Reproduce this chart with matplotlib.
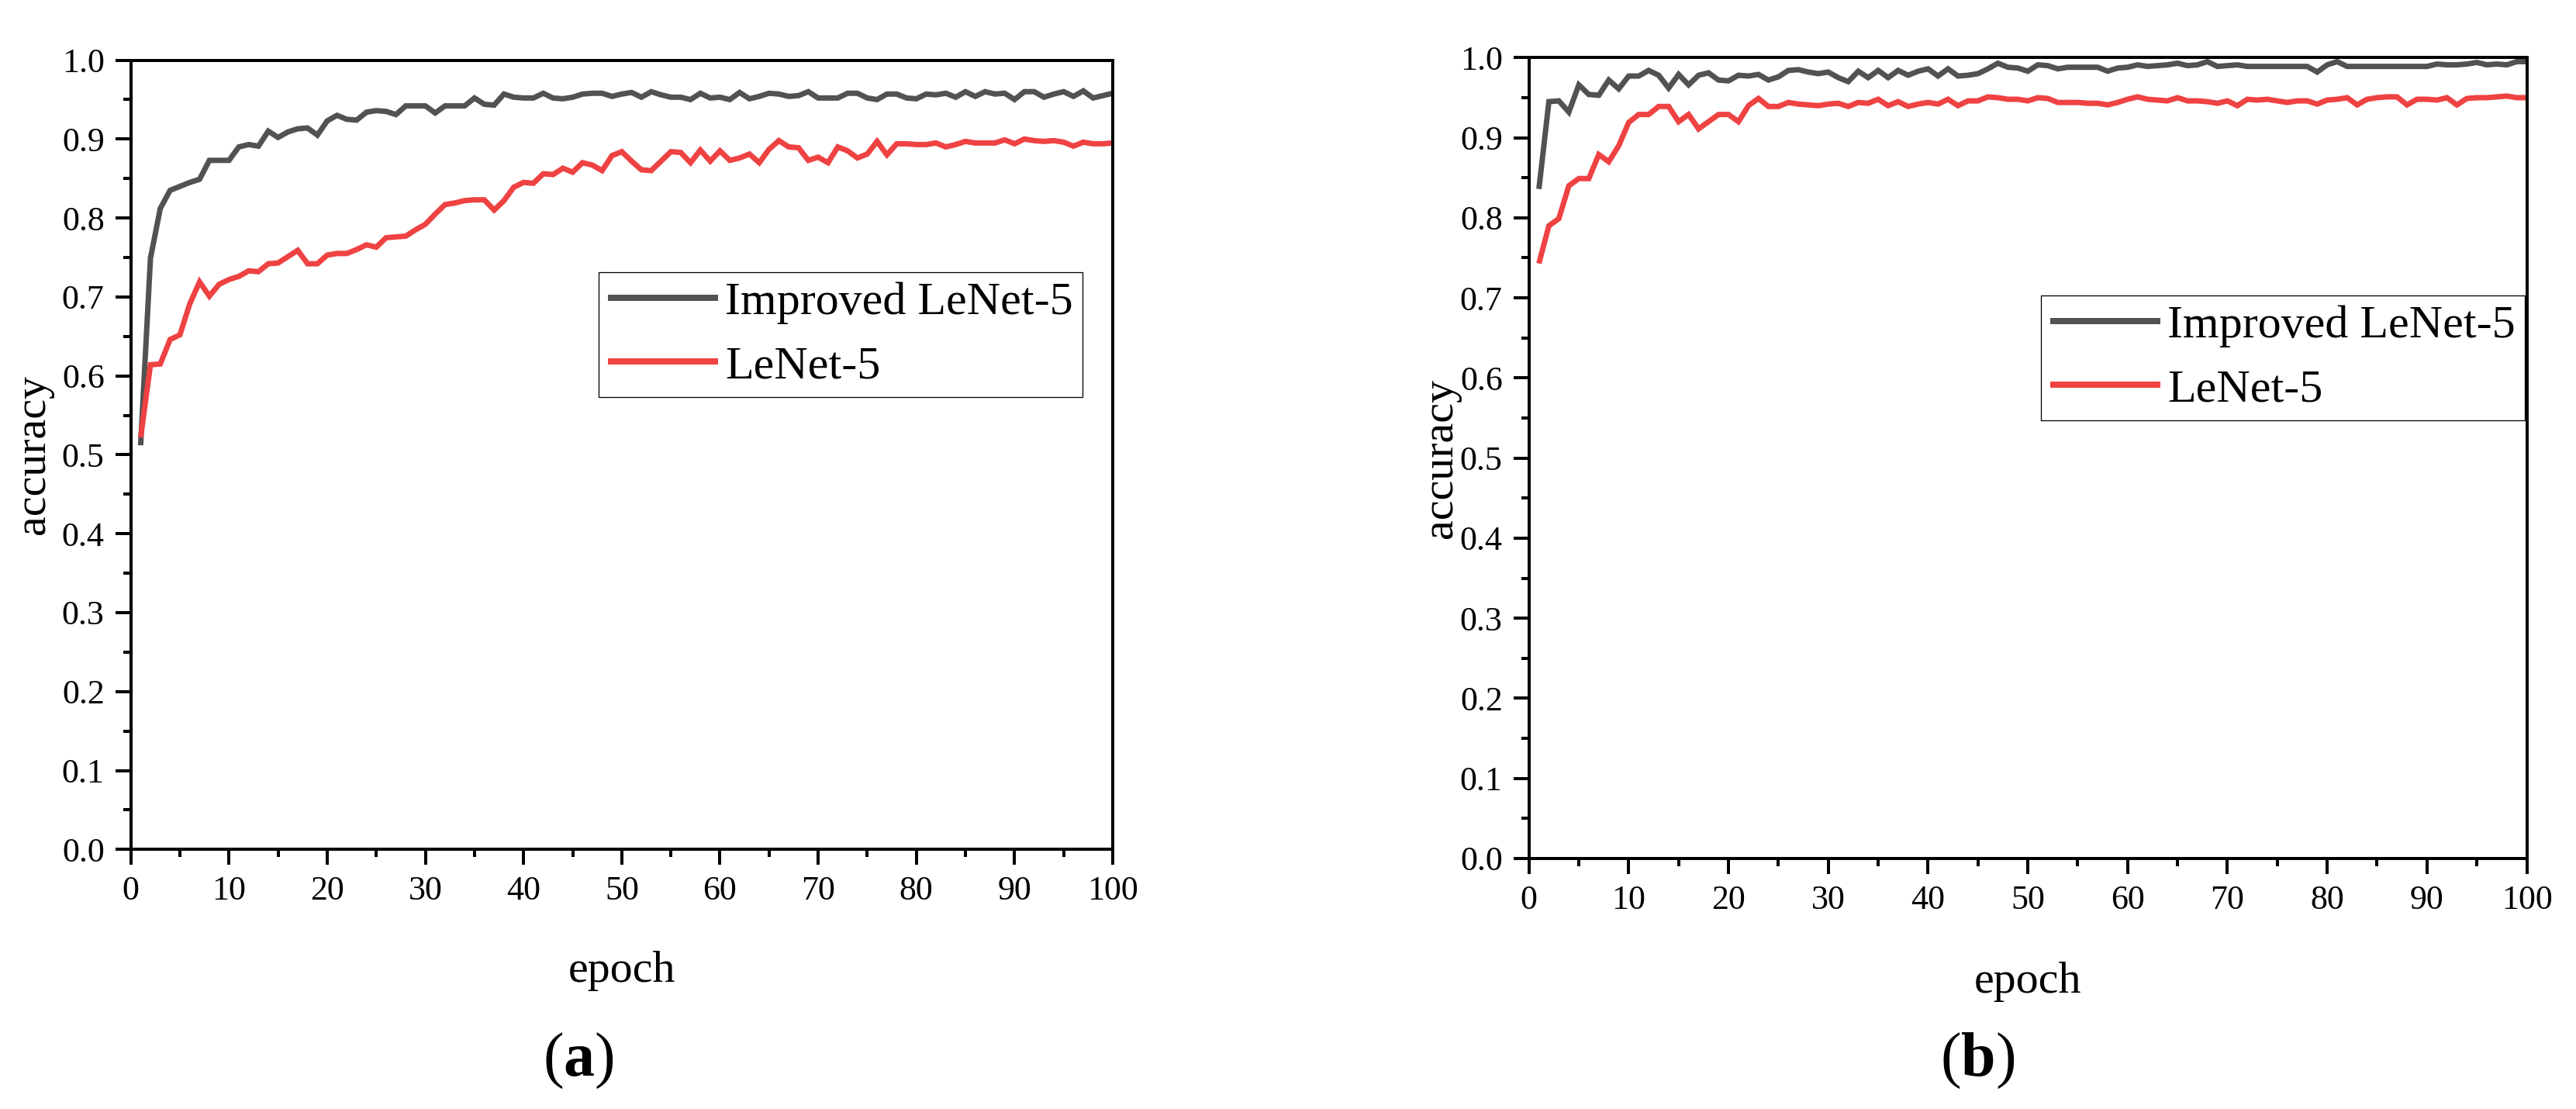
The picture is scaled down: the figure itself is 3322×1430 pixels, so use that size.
import numpy as np
import matplotlib
matplotlib.use("Agg")
import matplotlib.pyplot as plt
from matplotlib.ticker import MultipleLocator, FormatStrFormatter

SERIF = ['Liberation Serif', 'DejaVu Serif']
plt.rcParams['font.family'] = SERIF
plt.rcParams['mathtext.fontset'] = 'custom'
plt.rcParams['mathtext.rm'] = 'Liberation Serif'
plt.rcParams['mathtext.bf'] = 'Liberation Serif:bold'

epochs = list(range(1, 101))

a_improved = [
    0.512, 0.749, 0.812, 0.835, 0.840, 0.845, 0.849, 0.873, 0.873, 0.873,
    0.890, 0.893, 0.891, 0.910, 0.902, 0.909, 0.913, 0.914, 0.905, 0.923,
    0.930, 0.925, 0.924, 0.934, 0.936, 0.935, 0.931, 0.942, 0.942, 0.942,
    0.933, 0.942, 0.942, 0.942, 0.952, 0.944, 0.943, 0.957, 0.953, 0.952,
    0.952, 0.958, 0.952, 0.951, 0.953, 0.957, 0.958, 0.958, 0.954, 0.957,
    0.959, 0.953, 0.960, 0.956, 0.953, 0.953, 0.950, 0.958, 0.952, 0.953,
    0.950, 0.959, 0.951, 0.954, 0.958, 0.957, 0.954, 0.955, 0.960, 0.952,
    0.952, 0.952, 0.958, 0.958, 0.952, 0.950, 0.957, 0.957, 0.952, 0.951,
    0.957, 0.956, 0.958, 0.953, 0.960, 0.954, 0.960, 0.957, 0.958, 0.950,
    0.960, 0.960, 0.953, 0.957, 0.960, 0.954, 0.961, 0.952, 0.955, 0.958,
]
a_lenet = [
    0.522, 0.614, 0.615, 0.646, 0.652, 0.691, 0.719, 0.701, 0.716, 0.722,
    0.726, 0.733, 0.732, 0.742, 0.743, 0.751, 0.759, 0.742, 0.742, 0.753,
    0.755, 0.755, 0.760, 0.766, 0.763, 0.775, 0.776, 0.777, 0.785, 0.792,
    0.805, 0.817, 0.819, 0.822, 0.823, 0.823, 0.810, 0.822, 0.839, 0.845,
    0.844, 0.856, 0.855, 0.863, 0.858, 0.870, 0.867, 0.860, 0.879, 0.884,
    0.872, 0.861, 0.860, 0.872, 0.884, 0.883, 0.870, 0.886, 0.872, 0.885,
    0.873, 0.876, 0.881, 0.870, 0.887, 0.898, 0.890, 0.889, 0.873, 0.877,
    0.870, 0.890, 0.885, 0.876, 0.881, 0.897, 0.880, 0.894, 0.894, 0.893,
    0.893, 0.895, 0.890, 0.893, 0.897, 0.895, 0.895, 0.895, 0.899, 0.894,
    0.900, 0.898, 0.897, 0.898, 0.896, 0.891, 0.896, 0.894, 0.894, 0.895,
]
b_improved = [
    0.836, 0.945, 0.946, 0.932, 0.966, 0.954, 0.953, 0.972, 0.961, 0.977,
    0.977, 0.984, 0.978, 0.962, 0.979, 0.966, 0.978, 0.981, 0.972, 0.971,
    0.978, 0.977, 0.979, 0.972, 0.976, 0.984, 0.985, 0.982, 0.980, 0.982,
    0.975, 0.970, 0.983, 0.975, 0.984, 0.975, 0.984, 0.978, 0.983, 0.986,
    0.977, 0.986, 0.977, 0.978, 0.980, 0.986, 0.993, 0.988, 0.987, 0.983,
    0.991, 0.990, 0.986, 0.988, 0.988, 0.988, 0.988, 0.983, 0.987, 0.988,
    0.991, 0.989, 0.990, 0.991, 0.993, 0.990, 0.991, 0.995, 0.989, 0.990,
    0.991, 0.989, 0.989, 0.989, 0.989, 0.989, 0.989, 0.989, 0.982, 0.991,
    0.995, 0.989, 0.989, 0.989, 0.989, 0.989, 0.989, 0.989, 0.989, 0.989,
    0.992, 0.991, 0.991, 0.992, 0.994, 0.991, 0.992, 0.991, 0.995, 0.995,
]
b_lenet = [
    0.743, 0.790, 0.799, 0.840, 0.849, 0.849, 0.879, 0.870, 0.890, 0.919,
    0.929, 0.929, 0.939, 0.939, 0.920, 0.929, 0.911, 0.920, 0.929, 0.929,
    0.920, 0.940, 0.949, 0.939, 0.939, 0.944, 0.942, 0.941, 0.940, 0.942,
    0.943, 0.939, 0.944, 0.943, 0.948, 0.940, 0.945, 0.939, 0.942, 0.944,
    0.942, 0.948, 0.940, 0.946, 0.946, 0.951, 0.950, 0.948, 0.948, 0.946,
    0.950, 0.949, 0.944, 0.944, 0.944, 0.943, 0.943, 0.941, 0.944, 0.948,
    0.951, 0.948, 0.947, 0.946, 0.950, 0.946, 0.946, 0.945, 0.943, 0.946,
    0.940, 0.948, 0.947, 0.948, 0.946, 0.944, 0.946, 0.946, 0.942, 0.947,
    0.948, 0.950, 0.941, 0.948, 0.950, 0.951, 0.951, 0.941, 0.948, 0.948,
    0.947, 0.950, 0.941, 0.949, 0.950, 0.950, 0.951, 0.952, 0.950, 0.950,
]

series_labels = ["Improved LeNet-5", "LeNet-5"]
panel_labels = ["a", "b"]
x_label = "epoch"
y_label = "accuracy"

W, H = 3322, 1430
DPI = 100
fig = plt.figure(figsize=(W / DPI, H / DPI), dpi=DPI)

GRAY = "#525252"
RED = "#EF4242"
PX = 72.0 / DPI  # points per pixel


def fx(px):
    return px / W


def fy(py):
    return 1 - py / H


# axes boxes in pixels: left, right, top, bottom
boxes = [(168.7, 1435.0, 77.5, 1095.3), (1971.7, 3258.5, 74.3, 1107.0)]
legend_tl = [(772, 351), (2632, 381)]
ylabel_x = [57, 1872]
xlabel_y = [1266, 1280]
panel_pos = [(746, 1387), (2550, 1387)]
data = [(a_improved, a_lenet), (b_improved, b_lenet)]

for i, (l, r, t, b) in enumerate(boxes):
    ax = fig.add_axes([fx(l), fy(b), fx(r - l), (b - t) / H])
    imp, len5 = data[i]
    ax.plot(epochs, imp, color=GRAY, lw=7 * PX, label=series_labels[0],
            solid_joinstyle='miter', solid_capstyle='butt')
    ax.plot(epochs, len5, color=RED, lw=7 * PX, label=series_labels[1],
            solid_joinstyle='miter', solid_capstyle='butt')
    ax.set_xlim(0, 100)
    ax.set_ylim(0, 1.0)
    ax.xaxis.set_major_locator(MultipleLocator(10))
    ax.xaxis.set_minor_locator(MultipleLocator(5))
    ax.xaxis.set_major_formatter(FormatStrFormatter('%d'))
    ax.yaxis.set_major_locator(MultipleLocator(0.1))
    ax.yaxis.set_minor_locator(MultipleLocator(0.05))
    ax.yaxis.set_major_formatter(FormatStrFormatter('%.1f'))
    for s in ax.spines.values():
        s.set_linewidth(4 * PX)
        s.set_color('black')
    ax.tick_params(which='major', direction='out', length=20 * PX, width=4 * PX,
                   labelsize=44 * PX, top=False, right=False, pad=14 * PX)
    ax.tick_params(which='minor', direction='out', length=10 * PX, width=4 * PX,
                   top=False, right=False)
    for lbl in ax.get_xticklabels() + ax.get_yticklabels():
        lbl.set_fontfamily(SERIF)

    leg = ax.legend(loc='upper left',
                    bbox_to_anchor=(fx(legend_tl[i][0]), fy(legend_tl[i][1])),
                    bbox_transform=fig.transFigure, borderaxespad=0,
                    prop={'family': SERIF, 'size': 60 * PX},
                    frameon=True, fancybox=False, shadow=False,
                    handlelength=2.37, handletextpad=0.15, borderpad=0.2,
                    labelspacing=0.45)
    fr = leg.get_frame()
    fr.set_edgecolor('black')
    fr.set_linewidth(1.3 * PX)
    fr.set_facecolor('white')
    fr.set_alpha(1)
    for ln in leg.get_lines():
        ln.set_linewidth(8 * PX)

    fig.text(fx(ylabel_x[i]), fy((t + b) / 2), y_label, rotation=90,
             rotation_mode='anchor', ha='center', va='baseline',
             fontsize=58 * PX)
    fig.text(fx((l + r) / 2), fy(xlabel_y[i]), x_label, ha='center',
             va='baseline', fontsize=58 * PX)
    px_, py_ = panel_pos[i]
    fig.text(fx(px_), fy(py_), r"(" + r"$\mathbf{" + panel_labels[i] + "}$" + ")",
             ha='center', va='baseline', fontsize=80 * PX)

fig.savefig("out.png", dpi=DPI, facecolor='white')
